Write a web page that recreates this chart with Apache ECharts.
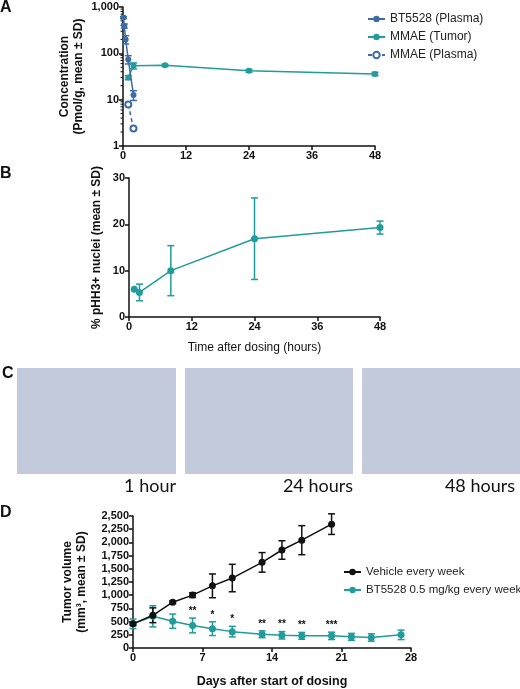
<!DOCTYPE html>
<html><head><meta charset="utf-8">
<script src="https://cdn.jsdelivr.net/npm/echarts@6/dist/echarts.min.js"></script>
<style>html,body{margin:0;padding:0;background:#fff}#c{width:520px;height:689px}</style>
</head><body><div id="c"></div>
<script>
// Panel A: concentration (log scale)
const aTicksX = [0, 12, 24, 36, 48];
const aMinorTicksY = [2, 3, 4, 5, 6, 7, 8, 9, 20, 30, 40, 50, 60, 70, 80, 90, 200, 300, 400, 500, 600, 700, 800, 900];
const bt5528PlasmaT = [0.083, 0.25, 0.5, 1, 2];
const bt5528Plasma = [590, 390, 200, 74, 12.6];
const bt5528PlasmaSD = [30, 40, 40, 15, 3];
const mmaeTumorT = [1, 2, 8, 24, 48];
const mmaeTumor = [30, 54, 55, 42, 36];
const mmaeTumorSD = [3, 8, 3, 3, 3];
const mmaePlasmaT = [1, 2];
const mmaePlasma = [7.9, 2.4];
const mmaePlasmaSD = [0.5, 0.3];
// Panel B: % pHH3+ nuclei
const pT = [1, 2, 8, 24, 48];
const pHH3 = [6.0, 5.3, 10.0, 16.9, 19.3];
const pHH3SD = [0, 1.8, 5.4, 8.8, 1.4];
// Panel C labels
const imgLabels = ['1 hour', '24 hours', '48 hours'];
// Panel D: tumor volume
const vehDays = [0, 2, 4, 6, 8, 10, 13, 15, 17, 20];
const vehicle = [458, 620, 867, 1002, 1177, 1325, 1622, 1856, 2042, 2346];
const vehicleSD = [30, 140, 25, 45, 225, 260, 185, 175, 275, 195];
const btDays = [0, 2, 4, 6, 8, 10, 13, 15, 17, 20, 22, 24, 27];
const bt = [458, 600, 508, 427, 366, 310, 260, 241, 230, 230, 212, 199, 249];
const btSD = [90, 200, 135, 140, 130, 100, 65, 70, 65, 70, 65, 70, 90];
const btSig = ['', '', '', '**', '*', '*', '**', '**', '**', '***', '', '', ''];

const BLUE = '#3d6ba6', TEAL = '#1f9c9b', BLACK = '#111';
const FONT = 'Liberation Sans';

function zip(x, y) { return x.map((v, i) => [v, y[i]]); }
function zip3(x, y, s) { return x.map((v, i) => [v, y[i], s[i]]); }

function errSeries(xi, yi, data, color) {
  return {
    type: 'custom', xAxisIndex: xi, yAxisIndex: yi, z: 1, silent: true,
    data: data,
    renderItem: function (params, api) {
      const x = api.value(0), y = api.value(1), s = api.value(2);
      if (!s) return null;
      const top = api.coord([x, y + s]);
      const bot = api.coord([x, y - s]);
      const w = 3.5;
      const st = { stroke: color, lineWidth: 1.5 };
      return { type: 'group', children: [
        { type: 'line', shape: { x1: top[0], y1: top[1], x2: bot[0], y2: bot[1] }, style: st },
        { type: 'line', shape: { x1: top[0] - w, y1: top[1], x2: top[0] + w, y2: top[1] }, style: st },
        { type: 'line', shape: { x1: bot[0] - w, y1: bot[1], x2: bot[0] + w, y2: bot[1] }, style: st }
      ]};
    }
  };
}

function axisBase(extra) {
  return Object.assign({
    axisLine: { onZero: false, lineStyle: { color: BLACK, width: 1.5 } },
    axisTick: { length: 4, lineStyle: { color: BLACK, width: 1.5 } },
    axisLabel: { color: BLACK, fontWeight: 'bold', fontSize: 11, fontFamily: FONT, margin: 4 },
    splitLine: { show: false },
    nameTextStyle: { color: BLACK, fontWeight: 'bold', fontSize: 12, fontFamily: FONT, lineHeight: 14 }
  }, extra);
}
const fmt = v => Number(v).toLocaleString('en-US');

const chart = echarts.init(document.getElementById('c'), null, { renderer: 'canvas' });

const graphics = [];
[['A', 0, 0], ['B', 0, 166], ['C', 2, 366], ['D', 0, 505]].forEach(p => {
  graphics.push({ type: 'text', left: p[1], top: p[2], style: { text: p[0], font: 'bold 16px "Liberation Sans"', fill: '#111' } });
});
const imgBoxes = [[17, 159], [185, 168], [362, 158]];
imgBoxes.forEach((b, i) => {
  graphics.push({ type: 'rect', shape: { x: b[0], y: 368, width: b[1], height: 106 }, style: { fill: '#c3cadb' } });
  graphics.push({ type: 'text', x: [176, 353, 515][i], y: 477, style: { text: imgLabels[i], font: '18px Lato', fill: '#111', textAlign: 'right', textVerticalAlign: 'top' } });
});

chart.setOption({
  animation: false,
  backgroundColor: '#fff',
  grid: [
    { left: 123, top: 7, width: 252, height: 139 },
    { left: 129, top: 178, width: 251, height: 139 },
    { left: 133, top: 516, width: 278, height: 135 }
  ],
  xAxis: [
    axisBase({ gridIndex: 0, type: 'value', min: 0, max: 48, interval: 12 }),
    axisBase({ gridIndex: 1, type: 'value', min: 0, max: 48, interval: 12,
      name: 'Time after dosing (hours)', nameLocation: 'middle', nameGap: 25,
      nameTextStyle: { color: BLACK, fontSize: 12, fontFamily: FONT } }),
    axisBase({ gridIndex: 2, type: 'value', min: 0, max: 28, interval: 7,
      name: 'Days after start of dosing', nameLocation: 'middle', nameGap: 27,
      nameTextStyle: { color: BLACK, fontWeight: 'bold', fontSize: 12.5, fontFamily: FONT } })
  ],
  yAxis: [
    axisBase({ gridIndex: 0, type: 'log', logBase: 10, min: 1, max: 1000,
      axisLabel: { color: BLACK, fontWeight: 'bold', fontSize: 11, fontFamily: FONT, margin: 4, formatter: fmt },
      name: 'Concentration\n(Pmol/g, mean ± SD)', nameLocation: 'middle', nameGap: 37, nameRotate: 90 }),
    axisBase({ gridIndex: 1, type: 'value', min: 0, max: 30, interval: 10,
      name: '% pHH3+ nuclei (mean ± SD)', nameLocation: 'middle', nameGap: 25, nameRotate: 90 }),
    axisBase({ gridIndex: 2, type: 'value', min: 0, max: 2500, interval: 250,
      axisLabel: { color: BLACK, fontWeight: 'bold', fontSize: 11, fontFamily: FONT, margin: 4, formatter: fmt },
      name: 'Tumor volume\n(mm³, mean ± SD)', nameLocation: 'middle', nameGap: 44, nameRotate: 90 })
  ],
  legend: [
    { orient: 'vertical', left: 362, top: 8, itemGap: 6, itemWidth: 17, itemHeight: 8,
      textStyle: { color: '#222', fontSize: 12, fontFamily: FONT },
      data: ['BT5528 (Plasma)', 'MMAE (Tumor)', 'MMAE (Plasma)'] },
    { orient: 'vertical', left: 338, top: 561, itemGap: 6, itemWidth: 17, itemHeight: 8,
      textStyle: { color: '#222', fontSize: 11.5, fontFamily: FONT },
      data: ['Vehicle every week', 'BT5528 0.5 mg/kg every week'] }
  ],
  graphic: graphics,
  series: [
    { type: 'custom', xAxisIndex: 0, yAxisIndex: 0, z: 1, silent: true,
      data: aMinorTicksY.map(v => [0, v]),
      renderItem: function (params, api) {
        const p = api.coord([api.value(0), api.value(1)]);
        return { type: 'line', shape: { x1: p[0], y1: p[1], x2: p[0] - 2.5, y2: p[1] }, style: { stroke: BLACK, lineWidth: 1 } };
      } },
    errSeries(0, 0, zip3(bt5528PlasmaT, bt5528Plasma, bt5528PlasmaSD), BLUE),
    errSeries(0, 0, zip3(mmaeTumorT, mmaeTumor, mmaeTumorSD), TEAL),
    { name: 'BT5528 (Plasma)', type: 'line', xAxisIndex: 0, yAxisIndex: 0, z: 3,
      data: zip(bt5528PlasmaT, bt5528Plasma), symbol: 'circle', symbolSize: 6,
      lineStyle: { color: BLUE, width: 1.5 }, itemStyle: { color: BLUE } },
    { name: 'MMAE (Tumor)', type: 'line', xAxisIndex: 0, yAxisIndex: 0, z: 2,
      data: zip(mmaeTumorT, mmaeTumor), symbol: 'circle', symbolSize: 6,
      lineStyle: { color: TEAL, width: 1.5 }, itemStyle: { color: TEAL } },
    { name: 'MMAE (Plasma)', type: 'line', xAxisIndex: 0, yAxisIndex: 0, z: 3,
      data: zip(mmaePlasmaT, mmaePlasma), symbol: 'emptyCircle', symbolSize: 6,
      lineStyle: { color: BLUE, width: 1.5, type: [4, 3] }, itemStyle: { color: BLUE, borderWidth: 1.5 } },

    errSeries(1, 1, zip3(pT, pHH3, pHH3SD), TEAL),
    { name: 'pHH3', type: 'line', xAxisIndex: 1, yAxisIndex: 1, z: 2,
      data: zip(pT, pHH3), symbol: 'circle', symbolSize: 7,
      lineStyle: { color: TEAL, width: 1.5 }, itemStyle: { color: TEAL } },

    errSeries(2, 2, zip3(btDays, bt, btSD), TEAL),
    errSeries(2, 2, zip3(vehDays, vehicle, vehicleSD), BLACK),
    { name: 'BT5528 0.5 mg/kg every week', type: 'line', xAxisIndex: 2, yAxisIndex: 2, z: 2,
      data: zip(btDays, bt), symbol: 'circle', symbolSize: 7,
      lineStyle: { color: TEAL, width: 1.5 }, itemStyle: { color: TEAL } },
    { name: 'Vehicle every week', type: 'line', xAxisIndex: 2, yAxisIndex: 2, z: 3,
      data: zip(vehDays, vehicle), symbol: 'circle', symbolSize: 7,
      lineStyle: { color: BLACK, width: 1.5 }, itemStyle: { color: BLACK } },
    { type: 'custom', xAxisIndex: 2, yAxisIndex: 2, z: 4, silent: true,
      data: btDays.map((d, i) => [d, bt[i] + btSD[i], btSig[i]]),
      renderItem: function (params, api) {
        const s = btSig[params.dataIndex];
        if (!s) return null;
        const p = api.coord([api.value(0), api.value(1)]);
        return { type: 'text', x: p[0], y: p[1] - 2,
          style: { text: s, font: 'bold 10px "Liberation Sans"', fill: '#111', textAlign: 'center', textVerticalAlign: 'bottom' } };
      } }
  ]
});
</script></body></html>
